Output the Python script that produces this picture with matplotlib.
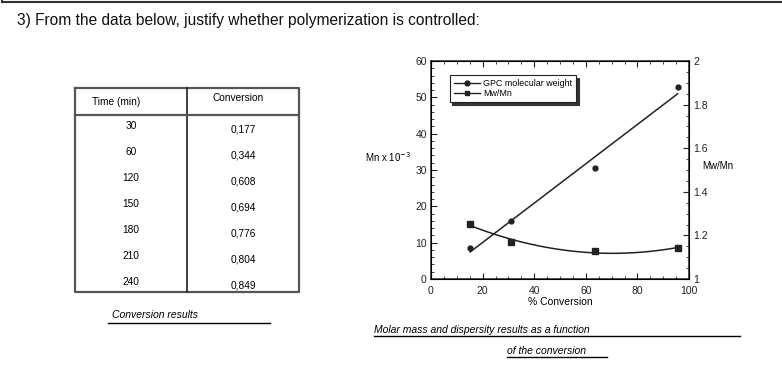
import matplotlib
matplotlib.use("Agg")
import matplotlib.pyplot as plt
from matplotlib.ticker import MultipleLocator
from matplotlib.lines import Line2D
import numpy as np

plt.rcParams['font.family'] = ['Liberation Sans', 'DejaVu Sans']

# table data
time_min = ["30", "60", "120", "150", "180", "210", "240"]
conversion = ["0,177", "0,344", "0,608", "0,694", "0,776", "0,804", "0,849"]

# graph data
pct_conversion = [15.2, 31.0, 63.6, 95.6]
mn_e3 = [8.6, 16.1, 30.6, 52.8]
mw_mn = [1.252, 1.170, 1.128, 1.142]

W, H = 782, 378
fig = plt.figure(figsize=(W / 100, H / 100), dpi=100)

# overlay in pixel coordinates for the page elements
page = fig.add_axes([0, 0, 1, 1])
page.set_xlim(0, W)
page.set_ylim(H, 0)
page.axis("off")

# edge of the box above the question
page.plot([2, W], [2, 2], color="#333333", lw=1.5)
page.plot([2, 2], [0, 2], color="#333333", lw=1.5)

page.text(17, 21, "3) From the data below, justify whether polymerization is controlled:",
          fontsize=11.2, va="center", ha="left", color="#111111")

# ---- table ----
tl, tr, tt, tb, tmid, thead = 75, 299, 88, 292, 187, 115
grey = "#555555"
fs_tab = 7.3
page.plot([tl, tr, tr, tl, tl], [tt, tt, tb, tb, tt], color=grey, lw=1.6)
page.plot([tmid, tmid], [tt, tb], color="#222222", lw=1.2)
page.plot([tl, tr], [thead, thead], color=grey, lw=1.6)
page.text(92, 102, "Time (min)", fontsize=fs_tab, ha="left", va="center")
page.text(238, 98, "Conversion", fontsize=fs_tab, ha="center", va="center")
for i, (t, c) in enumerate(zip(time_min, conversion)):
    y = 126 + i * 26
    page.text(131, y, t, fontsize=fs_tab, ha="center", va="center")
    page.text(243, y + 3, c, fontsize=fs_tab, ha="center", va="center")

page.text(112, 315, "Conversion results", fontsize=7.5, style="italic", ha="left", va="center")
page.plot([108, 270], [323, 323], color="black", lw=1)

page.text(374, 330, "Molar mass and dispersity results as a function", fontsize=7.5,
          style="italic", ha="left", va="center")
page.plot([374, 740], [335.5, 335.5], color="black", lw=1)
page.text(507, 351, "of the conversion", fontsize=7.5, style="italic", ha="left", va="center")
page.plot([507, 607], [357, 357], color="black", lw=1)

# ---- graph ----
ax_l, ax_r, ax_t, ax_b = 431, 689, 61, 279
ax = fig.add_axes([ax_l / W, 1 - ax_b / H, (ax_r - ax_l) / W, (ax_b - ax_t) / H])
ax2 = ax.twinx()

x = np.array(pct_conversion)
y = np.array(mn_e3)
a, b = np.polyfit(x, y, 1)
xf = np.linspace(x[0], x[-1], 50)
ax.plot(xf, a * xf + b, color="#222222", lw=1.1)
ax.plot(x, y, "o", color="#222222", ms=3.5)

d = np.array(mw_mn)
p = np.polyfit(x, d, 2)
ax2.plot(xf, np.polyval(p, xf), color="#222222", lw=1.1)
ax2.plot(x, d, "s", color="#222222", ms=4)

ax.set_xlim(0, 100)
ax.set_ylim(0, 60)
ax2.set_ylim(1, 2)
ax.xaxis.set_major_locator(MultipleLocator(20))
ax.xaxis.set_minor_locator(MultipleLocator(5))
ax.yaxis.set_major_locator(MultipleLocator(10))
ax.yaxis.set_minor_locator(MultipleLocator(2))
ax2.yaxis.set_minor_locator(MultipleLocator(0.05))
ax2.set_yticks([1, 1.2, 1.4, 1.6, 1.8, 2])
ax2.set_yticklabels(["1", "1.2", "1.4", "1.6", "1.8", "2"])

ax.tick_params(which="both", direction="in", top=True, labelsize=7.5, colors="#222222", pad=3)
ax.tick_params(axis="x", pad=5)
ax.tick_params(which="major", length=4)
ax.tick_params(which="minor", length=2.5)
ax2.tick_params(which="both", direction="in", labelsize=7.5, colors="#222222", pad=3)
ax2.tick_params(which="major", length=4)
ax2.tick_params(which="minor", length=2.5)
for s in ax.spines.values():
    s.set_linewidth(1.1)
    s.set_color("#222222")

ax.set_xlabel("% Conversion", fontsize=7.5, labelpad=1)
ax.set_ylabel("Mn x 10$^{-3}$", fontsize=7, rotation=0, ha="center", va="center")
ax.yaxis.set_label_coords(-0.167, 0.56)
ax2.set_ylabel("Mw/Mn", fontsize=7, rotation=0, ha="center", va="center")
ax2.yaxis.set_label_coords(1.11, 0.52)

handles = [Line2D([], [], color="#222222", lw=1, marker="o", ms=3.5),
           Line2D([], [], color="#222222", lw=1, marker="s", ms=3.5)]
leg = ax2.legend(handles, ["GPC molecular weight", "Mw/Mn"], loc="upper left",
                 bbox_to_anchor=(0.055, 0.955), fontsize=6.4, handlelength=3,
                 handletextpad=0.3, labelspacing=0.1, borderpad=0.45,
                 fancybox=False, shadow={"color": "#333333", "alpha": 1}, framealpha=1)
leg.get_frame().set_edgecolor("#222222")
leg.get_frame().set_linewidth(0.8)

fig.savefig("out.png", dpi=100)
